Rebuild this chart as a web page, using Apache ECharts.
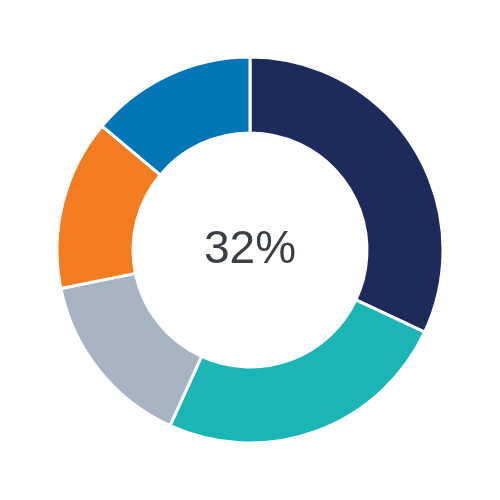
<!DOCTYPE html>
<html><head><meta charset="utf-8">
<script src="https://cdn.jsdelivr.net/npm/echarts@6/dist/echarts.min.js"></script>
<style>html,body{margin:0;padding:0;background:#fff}#c{width:500px;height:500px}</style>
</head><body><div id="c"></div>
<script>
const categories = ['A','B','C','D','E'];
const values = [32, 24.8, 15, 14.3, 13.9];
const colors = ['#1c2b5a','#1bb5b5','#a8b3c1','#f37b20','#0376b5'];
const centerLabel = '32%';
const chart = echarts.init(document.getElementById('c'));
chart.setOption({
  animation:false,
  graphic:[{type:'text',left:'center',top:'middle',style:{text:centerLabel,font:'46px "Liberation Sans", Arial, sans-serif',fill:'#3a3f47',textAlign:'center',textVerticalAlign:'middle'},x:250,y:247}],
  series:[{
    type:'pie',
    center:[250,250],
    radius:[117,193],
    startAngle:90,
    clockwise:true,
    label:{show:false},
    labelLine:{show:false},
    itemStyle:{borderColor:'#fff',borderWidth:3},
    emphasis:{disabled:true},
    data:categories.map((c,i)=>({name:c,value:values[i],itemStyle:{color:colors[i]}}))
  }]
});
</script></body></html>
